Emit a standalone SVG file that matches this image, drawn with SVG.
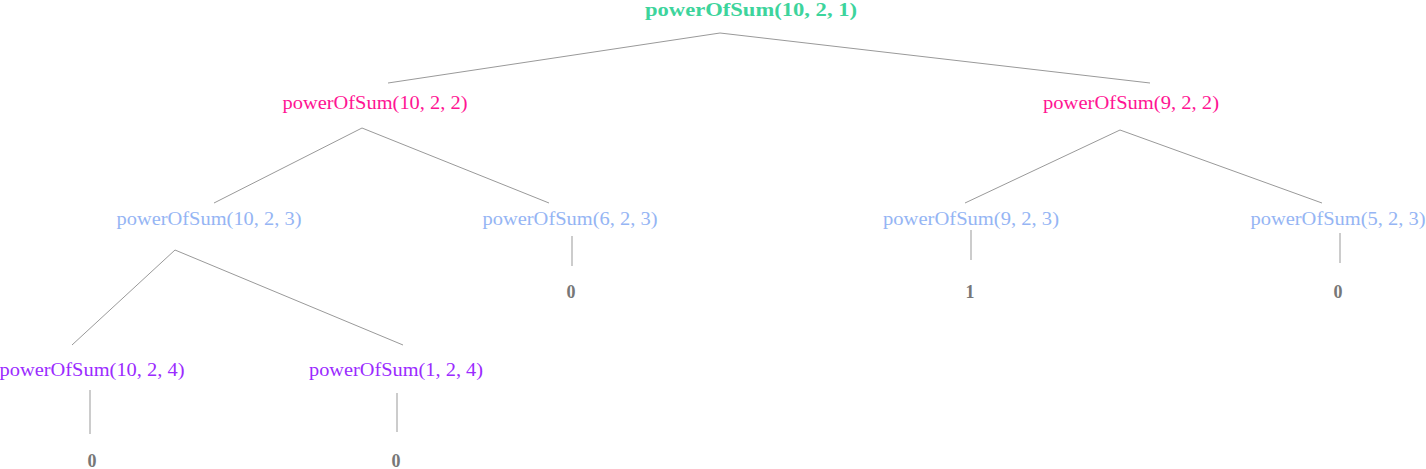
<svg xmlns="http://www.w3.org/2000/svg" width="1426" height="469" viewBox="0 0 1426 469">
<style>
text{font-family:"Liberation Serif","DejaVu Serif",serif;font-size:19px;text-anchor:middle}
.l0{fill:#3dd49c;font-weight:bold}
.l1{fill:#ff1493}
.l2{fill:#95b5f4}
.l3{fill:#9b2bff}
.leaf{fill:#777;font-weight:bold;font-size:18px}
.c line,.c polyline{stroke:#999;stroke-width:1;fill:none}
</style>
<rect width="1426" height="469" fill="#fff"/>
<g class="c" id="connectors">
<polyline points="388,83 720,33 1150,83"/>
<polyline points="214,203 362,128 549,203"/>
<polyline points="965,203 1120,130 1322,203"/>
<polyline points="72,345 175,250 403,345"/>
<line x1="572" y1="236" x2="572" y2="266"/>
<line x1="971" y1="230" x2="971" y2="260"/>
<line x1="1340" y1="233" x2="1340" y2="263"/>
<line x1="90" y1="390" x2="90" y2="434"/>
<line x1="397" y1="393" x2="397" y2="432"/>
</g>
<g id="n0"><text class="l0" x="751" y="16" textLength="212" lengthAdjust="spacingAndGlyphs">powerOfSum(10, 2, 1)</text></g>
<g id="n1"><text class="l1" x="375" y="109" textLength="185" lengthAdjust="spacingAndGlyphs">powerOfSum(10, 2, 2)</text></g>
<g id="n2"><text class="l1" x="1131" y="109" textLength="176" lengthAdjust="spacingAndGlyphs">powerOfSum(9, 2, 2)</text></g>
<g id="n3"><text class="l2" x="209" y="225" textLength="185" lengthAdjust="spacingAndGlyphs">powerOfSum(10, 2, 3)</text></g>
<g id="n4"><text class="l2" x="570" y="225" textLength="175" lengthAdjust="spacingAndGlyphs">powerOfSum(6, 2, 3)</text></g>
<g id="n5"><text class="l2" x="971" y="225" textLength="176" lengthAdjust="spacingAndGlyphs">powerOfSum(9, 2, 3)</text></g>
<g id="n6"><text class="l2" x="1338" y="225" textLength="175" lengthAdjust="spacingAndGlyphs">powerOfSum(5, 2, 3)</text></g>
<g id="n7"><text class="l3" x="92" y="376" textLength="185" lengthAdjust="spacingAndGlyphs">powerOfSum(10, 2, 4)</text></g>
<g id="n8"><text class="l3" x="396" y="376" textLength="174" lengthAdjust="spacingAndGlyphs">powerOfSum(1, 2, 4)</text></g>
<g id="n9"><text class="leaf" x="571" y="298">0</text></g>
<g id="n10"><text class="leaf" x="970" y="298">1</text></g>
<g id="n11"><text class="leaf" x="1338" y="298">0</text></g>
<g id="n12"><text class="leaf" x="92" y="467">0</text></g>
<g id="n13"><text class="leaf" x="396" y="467">0</text></g>
</svg>
